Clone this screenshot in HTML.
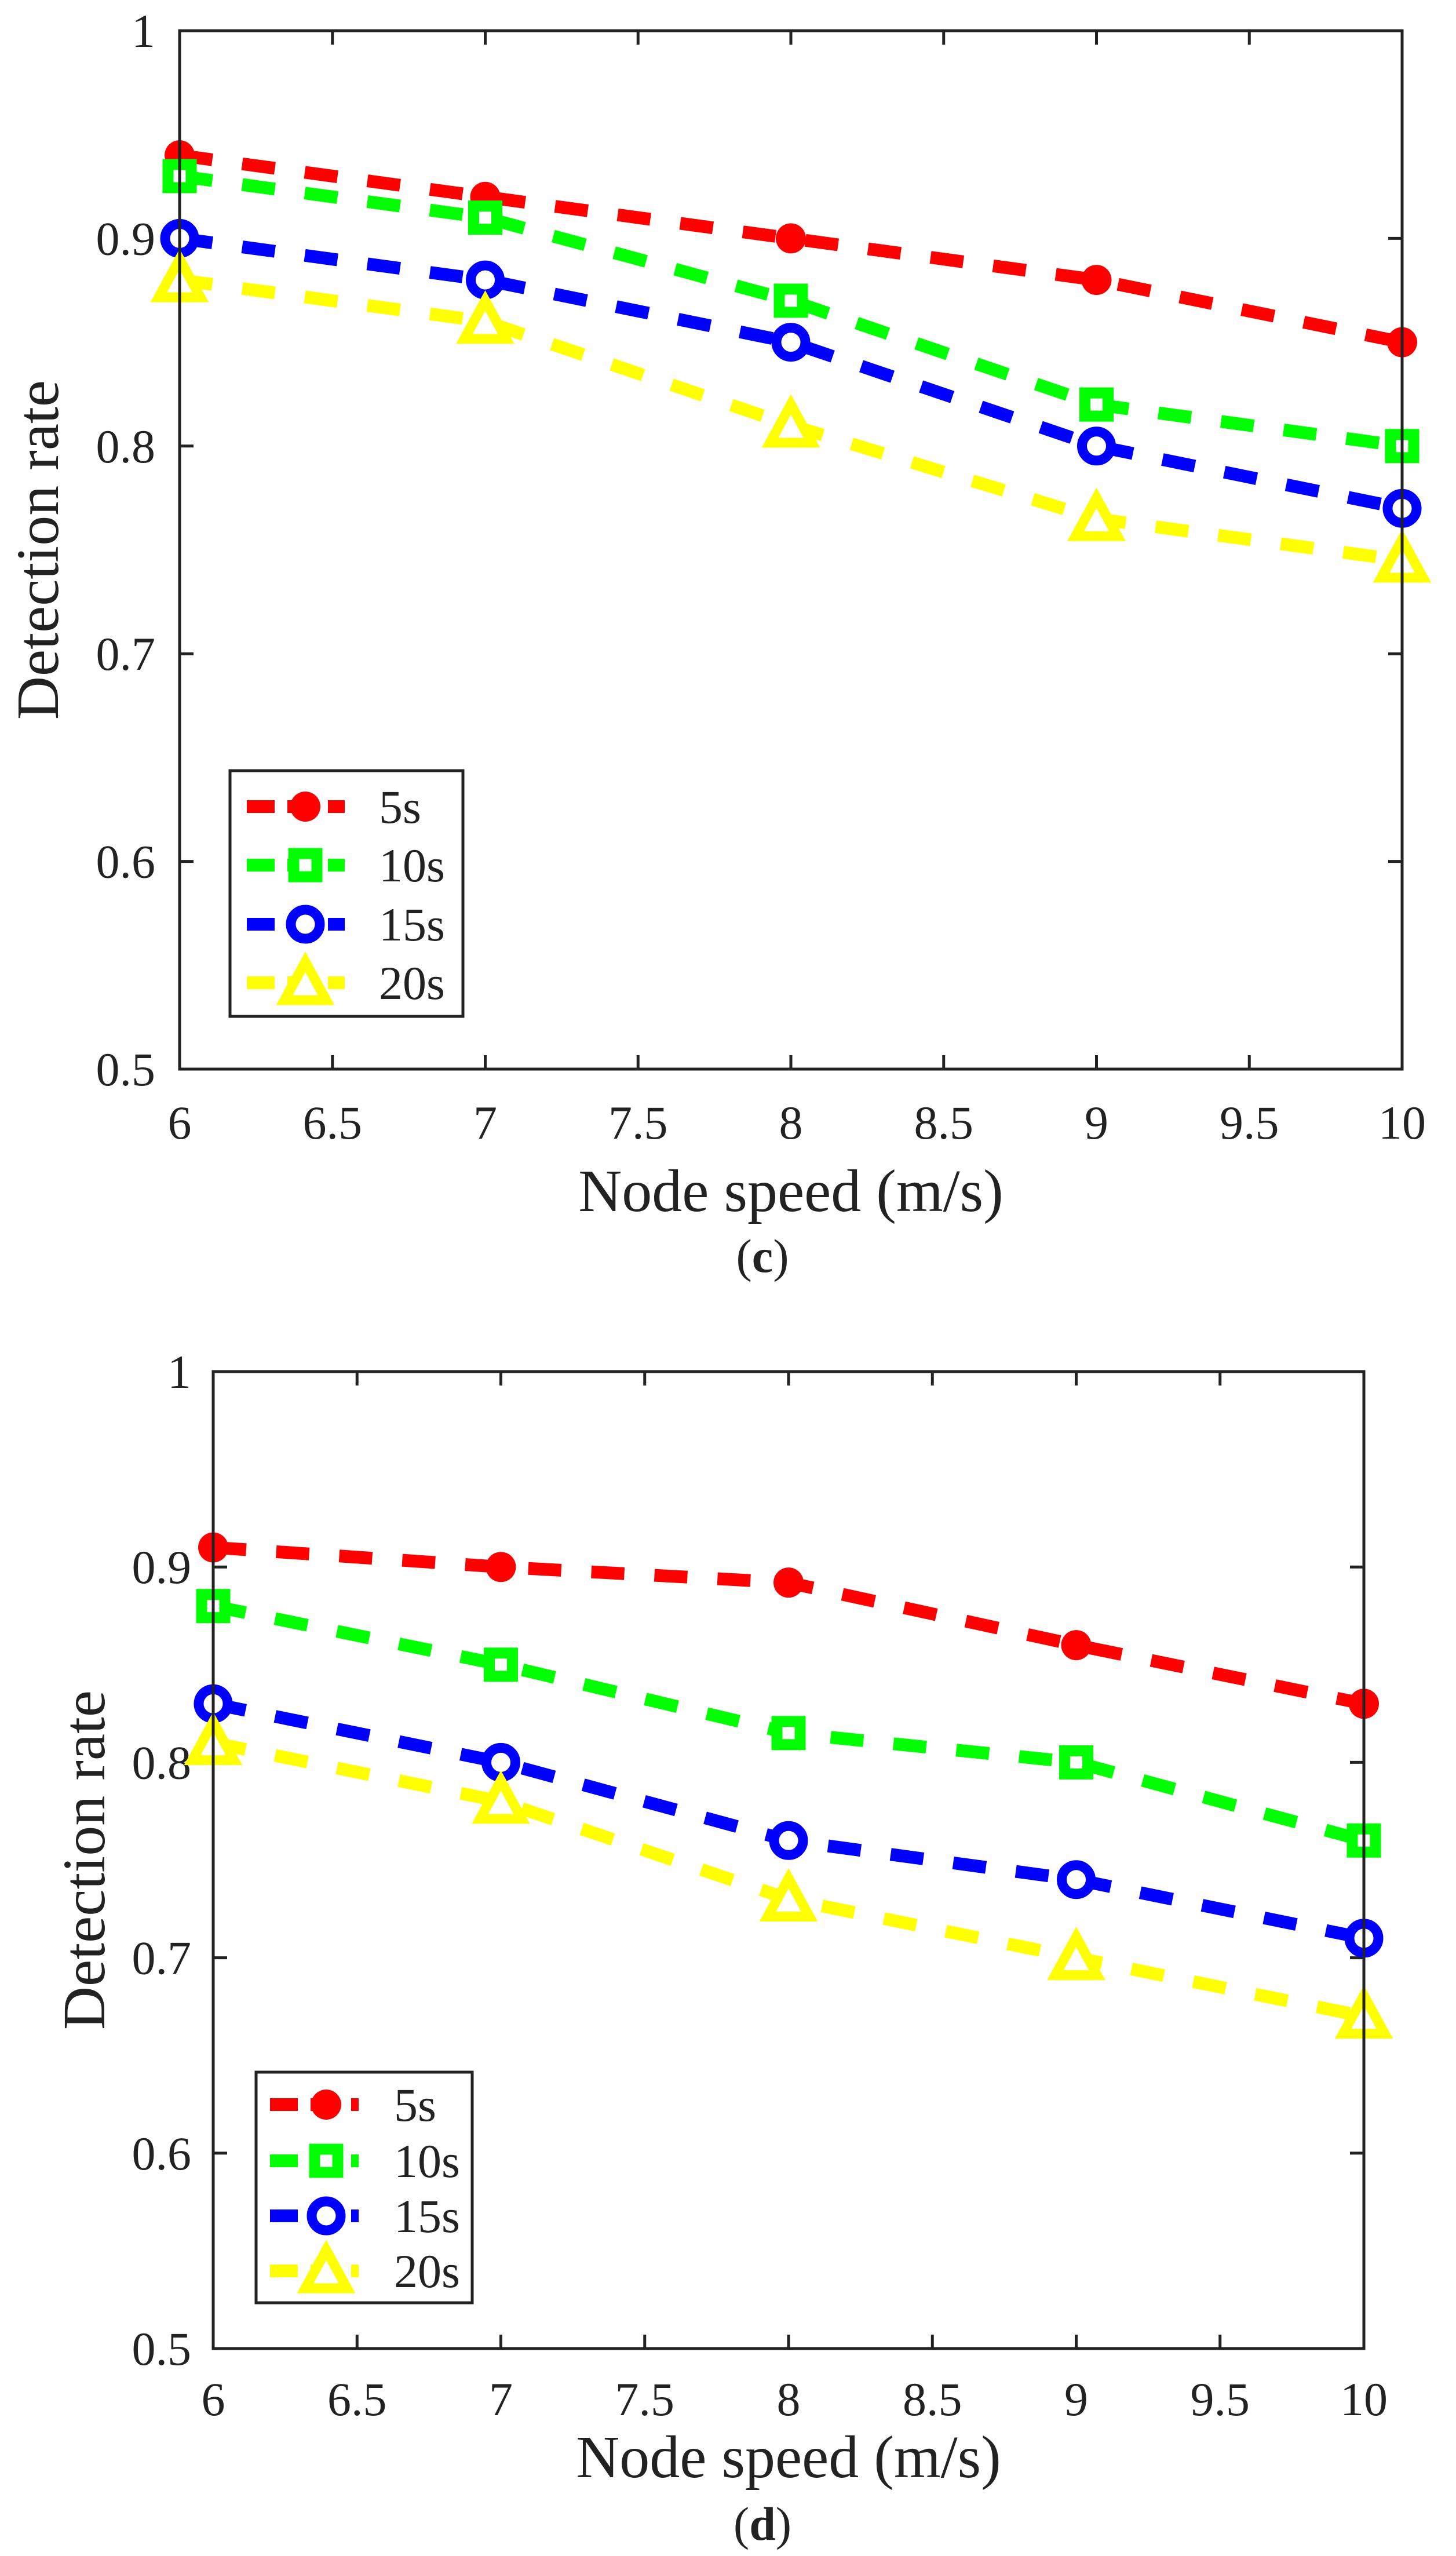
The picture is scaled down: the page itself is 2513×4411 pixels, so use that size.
<!DOCTYPE html>
<html><head><meta charset="utf-8">
<style>
html,body{margin:0;padding:0;background:#fff;}
svg{display:block;}
text{font-family:"Liberation Serif","DejaVu Serif",serif;fill:#222;}
</style></head>
<body>
<svg id="svg" width="2513" height="4411" viewBox="0 0 2513 4411" xmlns="http://www.w3.org/2000/svg"></svg>
<script>
const xCategories = [6, 7, 8, 9, 10];
const xTicks = [6, 6.5, 7, 7.5, 8, 8.5, 9, 9.5, 10];
const xTickLabels = ["6","6.5","7","7.5","8","8.5","9","9.5","10"];
const yTicks = [0.5, 0.6, 0.7, 0.8, 0.9, 1];
const yTickLabels = ["0.5","0.6","0.7","0.8","0.9","1"];
const seriesNames = ["5s","10s","15s","20s"];
const c5s = [0.94, 0.92, 0.90, 0.88, 0.85];
const c10s = [0.93, 0.91, 0.87, 0.82, 0.80];
const c15s = [0.90, 0.88, 0.85, 0.80, 0.77];
const c20s = [0.88, 0.86, 0.81, 0.765, 0.745];
const d5s = [0.91, 0.90, 0.892, 0.86, 0.83];
const d10s = [0.88, 0.85, 0.815, 0.80, 0.76];
const d15s = [0.83, 0.80, 0.76, 0.74, 0.71];
const d20s = [0.81, 0.78, 0.73, 0.70, 0.67];

const NS = "http://www.w3.org/2000/svg";
const svg = document.getElementById('svg');
const colors = ["#ff0000","#00ff00","#0000ff","#ffff00"];
const markers = ["dot","square","circle","triangle"];
const FONT = '"Liberation Serif", serif';

function mk(tag, attrs, parent){
  const e = document.createElementNS(NS, tag);
  for (const k in attrs) e.setAttribute(k, attrs[k]);
  (parent||svg).appendChild(e);
  return e;
}
function drawMarker(g, type, x, y, color){
  let m;
  if (type==="dot") m = mk('circle',{cx:x,cy:y,r:26,fill:color},g);
  else if (type==="square") m = mk('rect',{x:x-20,y:y-20,width:40,height:40,fill:'#fff',stroke:color,'stroke-width':19},g);
  else if (type==="circle") m = mk('circle',{cx:x,cy:y,r:25,fill:'#fff',stroke:color,'stroke-width':17},g);
  else m = mk('polygon',{points:`${x},${y-36} ${x+36},${y+30} ${x-36},${y+30}`,fill:'#fff',stroke:color,'stroke-width':17,'stroke-linejoin':'miter'},g);
  
  
}

function chart(cfg){
  const {L,R,T,B,data,name,label,ylabX,yTickX,xTickY,xTitleY,capY,legend} = cfg;
  const g = mk('g',{});
  
  
  const xs = v => L + (v-6)/(10-6)*(R-L);
  const ys = v => B - (v-0.5)/(1-0.5)*(B-T);
  xTicks.forEach((t,i)=>{
    const x = xs(t);
    const tk1 = mk('line',{x1:x,x2:x,y1:B,y2:B-24,stroke:'#222','stroke-width':5},g);
    
    
    const tk2 = mk('line',{x1:x,x2:x,y1:T,y2:T+24,stroke:'#222','stroke-width':5},g);
    
    
    const tl = mk('text',{x:x,y:xTickY,'font-size':82,'text-anchor':'middle','font-family':FONT},g);
    tl.textContent = xTickLabels[i];
    
    
  });
  yTicks.forEach((t,i)=>{
    const y = ys(t);
    const tk1 = mk('line',{x1:L,x2:L+24,y1:y,y2:y,stroke:'#222','stroke-width':5},g);
    
    
    const tk2 = mk('line',{x1:R,x2:R-24,y1:y,y2:y,stroke:'#222','stroke-width':5},g);
    
    
    const tl = mk('text',{x:yTickX,y:y+28,'font-size':82,'text-anchor':'end','font-family':FONT},g);
    tl.textContent = yTickLabels[i];
    
    
  });
  data.forEach((vals,si)=>{
    const sg = mk('g',{},g);
    
    
    const pts = vals.map((v,i)=>xs(xCategories[i])+','+ys(v)).join(' ');
    const pl = mk('polyline',{points:pts,fill:'none',stroke:colors[si],'stroke-width':22,'stroke-dasharray':'57 52'},sg);
    
    
    vals.forEach((v,i)=>drawMarker(sg, markers[si], xs(xCategories[i]), ys(v), colors[si]));
  });
  const fr = mk('rect',{x:L,y:T,width:R-L,height:B-T,fill:'none',stroke:'#222','stroke-width':5},g);
  
  
  const xt = mk('text',{x:(L+R)/2,y:xTitleY,'font-size':104,'text-anchor':'middle','font-family':FONT},g);
  xt.textContent = 'Node speed (m/s)';
  
  
  const yt = mk('text',{x:0,y:0,'font-size':104,'text-anchor':'middle','font-family':FONT,transform:`translate(${ylabX},${(T+B)/2}) rotate(-90)`},g);
  yt.textContent = 'Detection rate';
  
  
  const cap = mk('text',{x:1316,y:capY,'font-size':82,'text-anchor':'middle','font-family':FONT},g);
  cap.textContent = '(';
  const b = document.createElementNS(NS,'tspan'); b.setAttribute('font-weight','bold'); b.textContent = label; cap.appendChild(b);
  cap.appendChild(document.createTextNode(')'));
  
  
  const lg = mk('g',{},g);
  
  
  const lb = mk('rect',{x:legend.x,y:legend.y,width:legend.w,height:legend.h,fill:'#fff',stroke:'#222','stroke-width':5},lg);
  
  
  seriesNames.forEach((n,si)=>{
    const y = legend.rows[si];
    const eg = mk('g',{},lg);
    
    
    const ln = mk('line',{x1:legend.lx1,x2:legend.lx2,y1:y,y2:y,stroke:colors[si],'stroke-width':22,'stroke-dasharray':'48 22'},eg);
    
    
    drawMarker(eg, markers[si], legend.mx, y, colors[si]);
    const t = mk('text',{x:legend.tx,y:y+28,'font-size':82,'font-family':FONT},eg);
    t.textContent = n;
    
    
  });
}

chart({L:310,R:2420,T:53,B:1845,data:[c5s,c10s,c15s,c20s],name:'chart-c',label:'c',
  ylabX:100,yTickX:268,xTickY:1965,xTitleY:2090,capY:2195,
  legend:{x:397,y:1330,w:402,h:424,rows:[1392,1493,1595,1696],lx1:426,lx2:595,mx:527,tx:654}});
chart({L:368,R:2354,T:2367,B:4053,data:[d5s,d10s,d15s,d20s],name:'chart-d',label:'d',
  ylabX:180,yTickX:330,xTickY:4168,xTitleY:4275,capY:4383,
  legend:{x:442,y:3576,w:373,h:398,rows:[3632,3729,3824,3919],lx1:466,lx2:619,mx:563,tx:680}});
</script>
</body></html>
